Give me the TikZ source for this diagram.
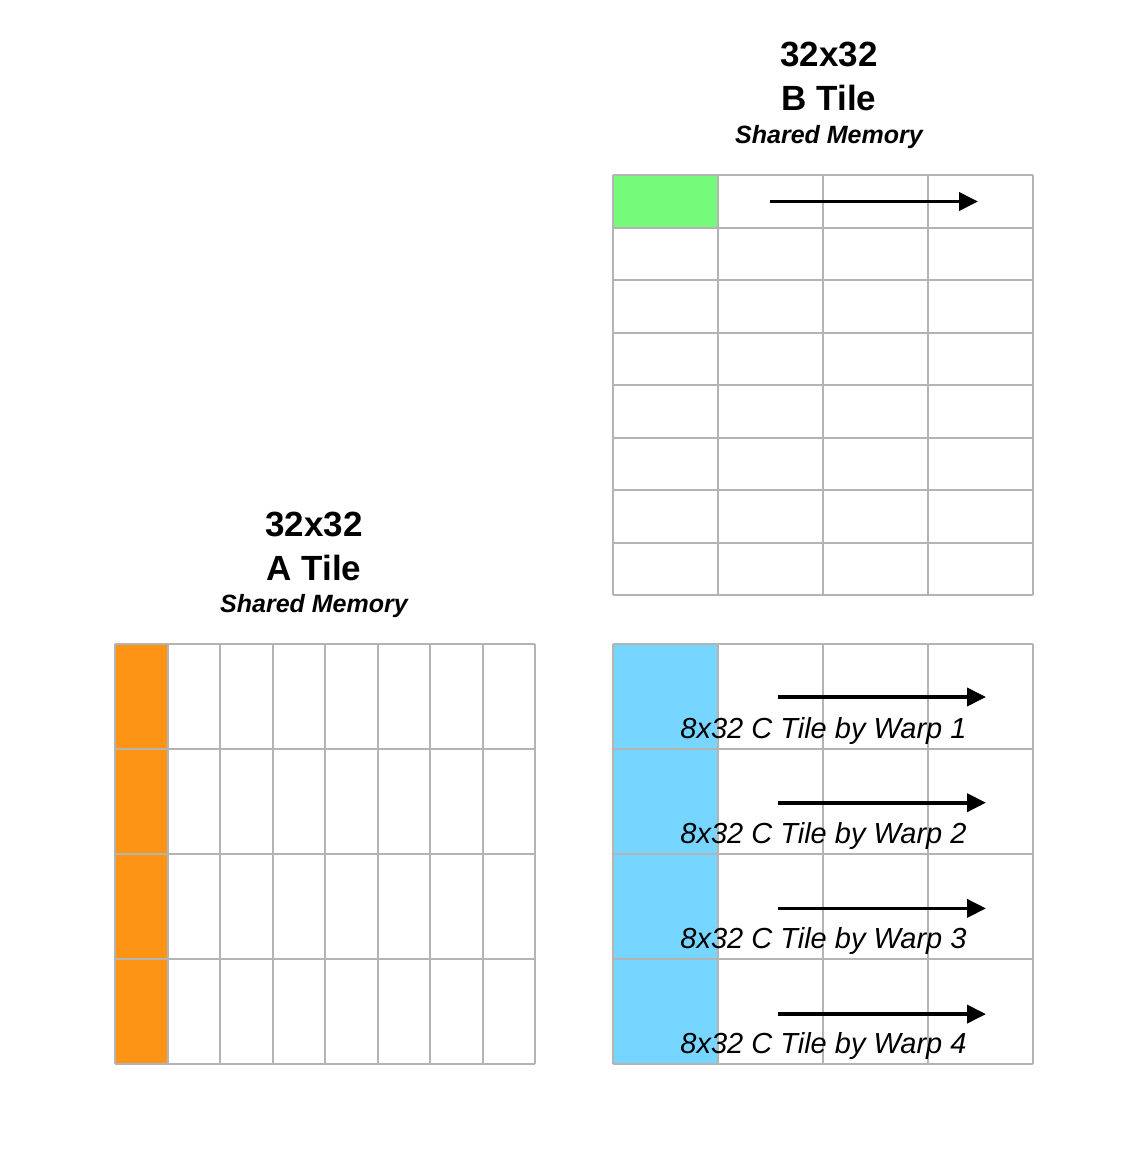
\documentclass[tikz,border=0pt]{standalone}
\usepackage{fontspec}
\setmainfont{Liberation Sans}
\usepackage{xcolor}
\usetikzlibrary{arrows.meta}

\definecolor{flora}{HTML}{75FB79}
\definecolor{tangerine}{HTML}{FD9415}
\definecolor{sky}{HTML}{76D6FF}
\definecolor{cellgray}{HTML}{B4B4B4}

\begin{document}
\begin{tikzpicture}[x=1pt,y=-1pt,>={Triangle[length=19pt,width=18pt]},
      cell line/.style={draw=cellgray,line width=2pt},
      size label/.style={font=\fontsize{35}{40}\selectfont\bfseries,anchor=base},
      mem label/.style={font=\fontsize{25}{28}\selectfont\bfseries\itshape,anchor=base},
      warp label/.style={font=\fontsize{29}{32}\selectfont\itshape,anchor=base,inner sep=0pt},
      sweep/.style={->,line width=3.8pt}]

  \useasboundingbox (0,0) rectangle (1133,1162);

  % coloured cells
  \fill[flora] (613,175) rectangle (718,227.5);
  \fill[tangerine] (115,644) rectangle (167.5,1064);
  \fill[sky] (613,644) rectangle (718,1064);

  % B tile, 4x8 cells
  \foreach \i in {0,...,4}
    \draw[cell line] (613+105*\i,175) -- (613+105*\i,595);
  \foreach \j in {0,...,8}
    \draw[cell line] (613,175+52.5*\j) -- (1033,175+52.5*\j);

  % A tile, 8x4 cells
  \foreach \i in {0,...,8}
    \draw[cell line] (115+52.5*\i,644) -- (115+52.5*\i,1064);
  \foreach \j in {0,...,4}
    \draw[cell line] (115,644+105*\j) -- (535,644+105*\j);

  % C tile, 4x4 cells
  \foreach \i in {0,...,4}
    \draw[cell line] (613+105*\i,644) -- (613+105*\i,1064);
  \foreach \j in {0,...,4}
    \draw[cell line] (613,644+105*\j) -- (1033,644+105*\j);

  % titles
  \node[size label] (bsize) at (829,66) {32x32};
  \node[size label] (btile) at (829,110) {B Tile};
  \node[mem label] (bmem) at (829,143) {Shared Memory};

  \node[size label] (asize) at (314,536) {32x32};
  \node[size label] (atile) at (314,580) {A Tile};
  \node[mem label] (amem) at (314,612) {Shared Memory};

  % sweep along B
  \coordinate (bfrom) at (770,201.5);
  \coordinate (bto) at (978,201.5);
  \draw[sweep] (bfrom) -- (bto);

  % one strip of C per warp
  \foreach \w in {1,...,4} {
    \coordinate (cfrom\w) at (778,697+105.7*\w-105.7);
    \coordinate (cto\w) at (986,697+105.7*\w-105.7);
    \draw[sweep] (cfrom\w) -- (cto\w);
    \node[warp label] (warp\w) at (823.5,738+105*\w-105) {8x32 C Tile by Warp \w};
  }
\end{tikzpicture}
\end{document}
